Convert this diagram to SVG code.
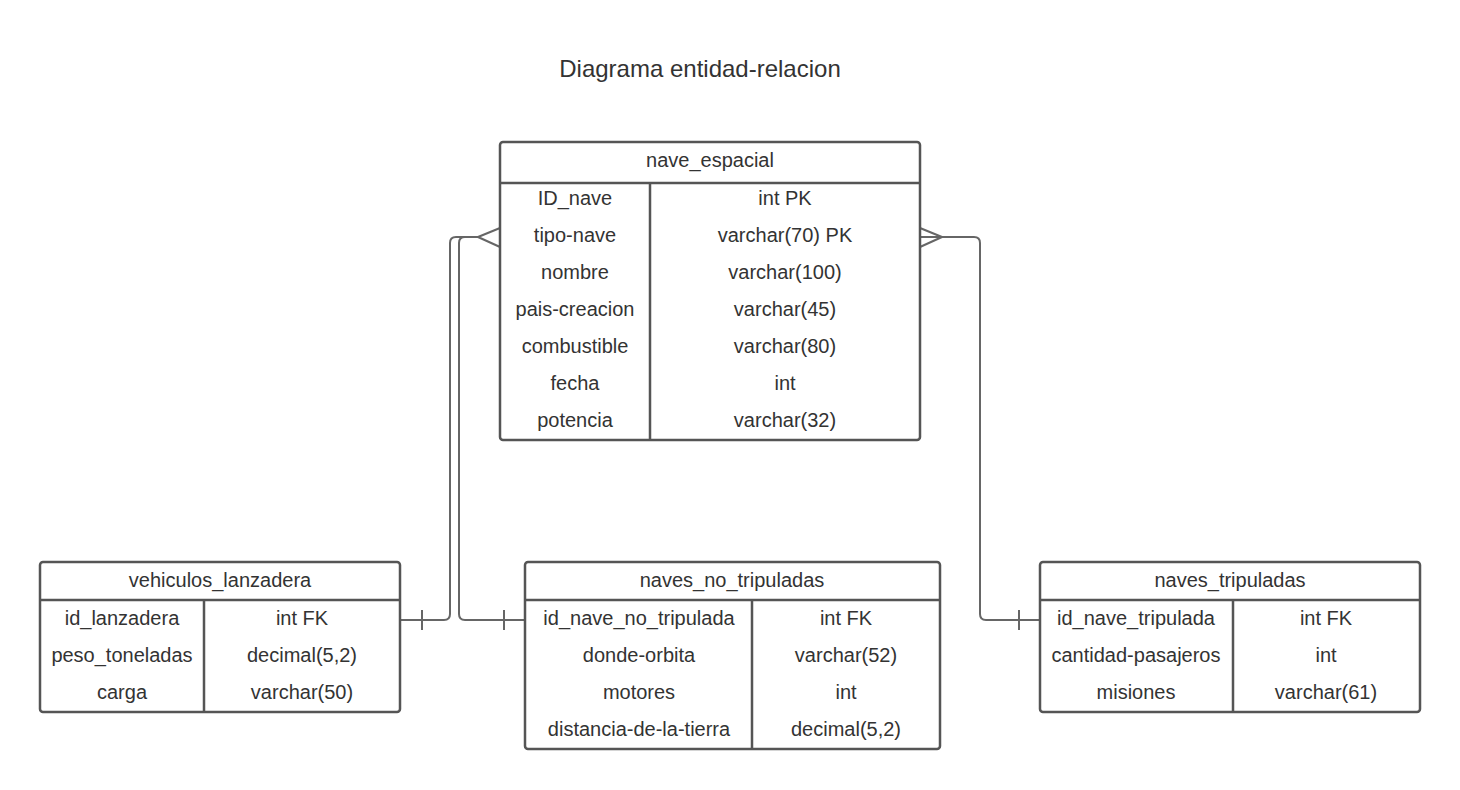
<svg xmlns="http://www.w3.org/2000/svg" width="1460" height="790" viewBox="0 0 1460 790">
<style>
text{font-family:"Liberation Sans",Arial,sans-serif;font-size:20px;fill:#333;text-anchor:middle;dominant-baseline:central}
.box{fill:#fff;stroke:#555;stroke-width:2.5}
.ln{stroke:#555;stroke-width:2.5;fill:none}
.c{stroke:#666;stroke-width:2;fill:none}
</style>
<rect width="1460" height="790" fill="#fff"/>
<text x="700" y="68" style="font-size:24px">Diagrama entidad-relacion</text>
<g id="connectors">
<path class="c" d="M478 237 H456 Q450 237 450 243 V614 Q450 620 444 620 H400"/>
<path class="c" d="M478 237 H465 Q459 237 459 243 V614 Q459 620 465 620 H525"/>
<path class="c" d="M478 237 L500 228 M478 237 L500 247"/>
<path class="c" d="M422 610 V630 M504 610 V630"/>
<path class="c" d="M920 237 H974 Q980 237 980 243 V614 Q980 620 986 620 H1040"/>
<path class="c" d="M942 237 L920 228 M942 237 L920 247"/>
<path class="c" d="M1019 610 V630"/>
</g>
<g id="nave_espacial">
<rect class="box" x="500" y="142" width="420" height="298" rx="3"/>
<path class="ln" d="M500 183 H920 M650 183 V440"/>
<text x="710" y="160">nave_espacial</text>
<text x="575" y="198">ID_nave</text><text x="785" y="198">int PK</text>
<text x="575" y="235">tipo-nave</text><text x="785" y="235">varchar(70) PK</text>
<text x="575" y="272">nombre</text><text x="785" y="272">varchar(100)</text>
<text x="575" y="309">pais-creacion</text><text x="785" y="309">varchar(45)</text>
<text x="575" y="346">combustible</text><text x="785" y="346">varchar(80)</text>
<text x="575" y="383">fecha</text><text x="785" y="383">int</text>
<text x="575" y="420">potencia</text><text x="785" y="420">varchar(32)</text>
</g>
<g id="vehiculos_lanzadera">
<rect class="box" x="40" y="562" width="360" height="150" rx="3"/>
<path class="ln" d="M40 600 H400 M204 600 V712"/>
<text x="220" y="580">vehiculos_lanzadera</text>
<text x="122" y="618">id_lanzadera</text><text x="302" y="618">int FK</text>
<text x="122" y="655">peso_toneladas</text><text x="302" y="655">decimal(5,2)</text>
<text x="122" y="692">carga</text><text x="302" y="692">varchar(50)</text>
</g>
<g id="naves_no_tripuladas">
<rect class="box" x="525" y="562" width="415" height="187" rx="3"/>
<path class="ln" d="M525 600 H940 M752 600 V749"/>
<text x="732" y="580">naves_no_tripuladas</text>
<text x="639" y="618">id_nave_no_tripulada</text><text x="846" y="618">int FK</text>
<text x="639" y="655">donde-orbita</text><text x="846" y="655">varchar(52)</text>
<text x="639" y="692">motores</text><text x="846" y="692">int</text>
<text x="639" y="729">distancia-de-la-tierra</text><text x="846" y="729">decimal(5,2)</text>
</g>
<g id="naves_tripuladas">
<rect class="box" x="1040" y="562" width="380" height="150" rx="3"/>
<path class="ln" d="M1040 600 H1420 M1233 600 V712"/>
<text x="1230" y="580">naves_tripuladas</text>
<text x="1136" y="618">id_nave_tripulada</text><text x="1326" y="618">int FK</text>
<text x="1136" y="655">cantidad-pasajeros</text><text x="1326" y="655">int</text>
<text x="1136" y="692">misiones</text><text x="1326" y="692">varchar(61)</text>
</g>
</svg>
